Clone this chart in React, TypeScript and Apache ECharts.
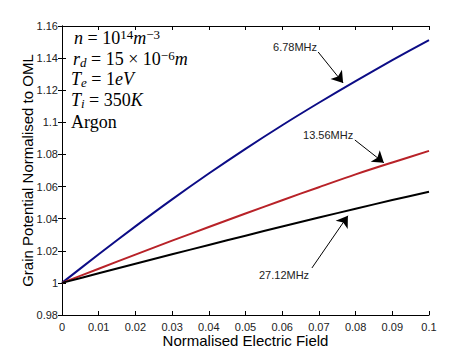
import React, { useEffect, useRef } from "react";
import * as echarts from "echarts";

const xValues = [0, 0.01, 0.02, 0.03, 0.04, 0.05, 0.06, 0.07, 0.08, 0.09, 0.1];
const mhz678 = [1, 1.0178, 1.0352, 1.052, 1.0681, 1.0835, 1.0982, 1.1122, 1.1257, 1.1387, 1.1512];
const mhz1356 = [1, 1.0088, 1.0176, 1.0263, 1.0348, 1.0432, 1.0515, 1.0596, 1.0676, 1.075, 1.0822];
const mhz2712 = [1, 1.006, 1.0119, 1.0178, 1.0236, 1.0294, 1.0351, 1.0407, 1.0462, 1.0516, 1.0568];

const seriesNames = ["6.78MHz", "13.56MHz", "27.12MHz"];
// annotation arrows: [label position, arrow start, arrow tip] in data coordinates
const labelPos = [
  [0.0635, 1.147],
  [0.0725, 1.0921],
  [0.0605, 1.0049],
];
const arrowStart = [
  [0.0698, 1.1438],
  [0.0798, 1.089],
  [0.0681, 1.0093],
];
const arrowEnd = [
  [0.0766, 1.1245],
  [0.0877, 1.0748],
  [0.0779, 1.0418],
];

const textLines = [
  "{i|n}{r| = 10}{sup|14}{i|m}{sup|−3}",
  "{i|r}{sub|d}{r| = 15 × 10}{sup|−6}{i|m}",
  "{i|T}{sub|e}{r| = 1}{i|eV}",
  "{i|T}{sub|i}{r| = 350}{i|K}",
  "{r|Argon}",
];

export default function App() {
  const ref = useRef<HTMLDivElement>(null);
  useEffect(() => {
    document.body.style.margin = "0";
    const chart = echarts.init(ref.current!, null, { renderer: "svg" });
    const colors = ["#0c0c86", "#b82228", "#000000"];
    const datasets = [mhz678, mhz1356, mhz2712];
    const labelFont = { fontFamily: "Liberation Sans, Arial, sans-serif", fontSize: 11, color: "#222" };
    const rich = {
      i: { fontFamily: "Liberation Serif", fontStyle: "italic", fontSize: 18, lineHeight: 20, color: "#1a1a1a" },
      r: { fontFamily: "Liberation Serif", fontSize: 18, lineHeight: 20, color: "#1a1a1a" },
      sup: { fontFamily: "Liberation Serif", fontSize: 13, lineHeight: 12, verticalAlign: "top", color: "#1a1a1a" },
      sub: { fontFamily: "Liberation Serif", fontStyle: "italic", fontSize: 13, lineHeight: 12, verticalAlign: "bottom", color: "#1a1a1a" },
    };
    const lineY = [38, 59, 79, 100, 122];
    const lineX = [74, 73, 71, 71, 71];
    chart.setOption({
      animation: false,
      backgroundColor: "#fff",
      grid: { left: 62, right: 45, top: 26, bottom: 40 },
      xAxis: [
        {
          type: "value",
          min: 0,
          max: 0.1,
          interval: 0.01,
          name: "Normalised Electric Field",
          nameLocation: "middle",
          nameGap: 18,
          nameMoveOverlap: false,
          nameTextStyle: { fontFamily: "Liberation Sans, Arial, sans-serif", fontSize: 15, color: "#000", verticalAlign: "top" },
          axisLine: { lineStyle: { color: "#000", width: 1 } },
          axisTick: { inside: true, length: 4, lineStyle: { color: "#000" } },
          axisLabel: { ...labelFont, margin: 6, formatter: (v: number) => String(+v.toFixed(2)) },
          splitLine: { show: false },
        },
        {
          type: "value",
          position: "top",
          min: 0,
          max: 0.1,
          interval: 0.01,
          axisLine: { show: true, lineStyle: { color: "#000", width: 1 } },
          axisTick: { show: true, inside: true, length: 4, lineStyle: { color: "#000" } },
          axisLabel: { show: false },
          splitLine: { show: false },
        },
      ],
      yAxis: [
        {
          type: "value",
          min: 0.98,
          max: 1.16,
          interval: 0.02,
          name: "Grain Potential Normalised to OML",
          nameLocation: "middle",
          nameGap: 27,
          nameMoveOverlap: false,
          nameTextStyle: { fontFamily: "Liberation Sans, Arial, sans-serif", fontSize: 15, color: "#000" },
          axisLine: { show: true, lineStyle: { color: "#000", width: 1 } },
          axisTick: { show: true, inside: true, length: 4, lineStyle: { color: "#000" } },
          axisLabel: { ...labelFont, margin: 4, formatter: (v: number) => String(+v.toFixed(2)) },
          splitLine: { show: false },
        },
        {
          type: "value",
          position: "right",
          min: 0.98,
          max: 1.16,
          interval: 0.02,
          axisLine: { show: true, lineStyle: { color: "#000", width: 1 } },
          axisTick: { show: true, inside: true, length: 4, lineStyle: { color: "#000" } },
          axisLabel: { show: false },
          splitLine: { show: false },
        },
      ],
      series: datasets.map((d, k) => ({
        name: seriesNames[k],
        type: "line",
        showSymbol: false,
        smooth: 0.3,
        data: xValues.map((x, i) => [x, d[i]]),
        lineStyle: { color: colors[k], width: 2 },
        itemStyle: { color: colors[k] },
        markLine: {
          silent: true,
          symbol: ["none", "arrow"],
          symbolSize: 11,
          label: { show: false },
          lineStyle: { color: "#000", width: 1, type: "solid" },
          data: [[{ coord: arrowStart[k] }, { coord: arrowEnd[k] }]],
        },
        markPoint: {
          silent: true,
          symbol: "circle",
          symbolSize: 0,
          label: { show: true, position: "inside", formatter: seriesNames[k], ...labelFont, fontSize: 11, color: "#222" },
          data: [{ coord: labelPos[k] }],
        },
      })),
      graphic: textLines.map((t, i) => ({
        type: "text",
        x: lineX[i],
        y: lineY[i],
        style: { text: t, rich, verticalAlign: "middle", align: "left" },
      })),
    });
    return () => chart.dispose();
  }, []);
  return <div ref={ref} style={{ width: 474, height: 355 }} />;
}
